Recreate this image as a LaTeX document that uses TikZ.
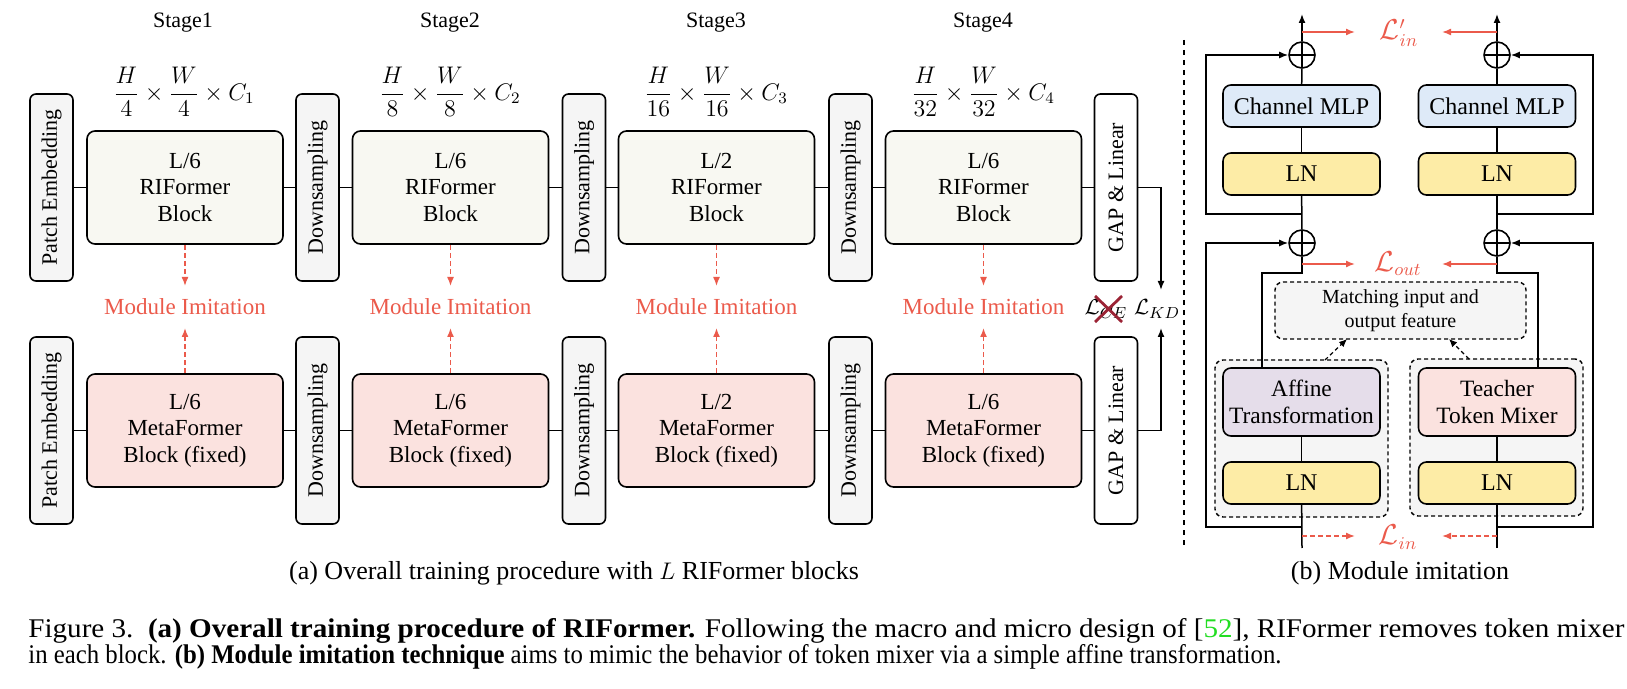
\documentclass[tikz,border=0pt]{standalone}
\usepackage{fontspec}
\setmainfont{Liberation Serif}
\usepackage{amsmath}
\usepackage{graphicx}
\usetikzlibrary{arrows.meta,calc}
\definecolor{rired}{HTML}{EB5A4B}
\definecolor{crossred}{HTML}{9B2335}
\definecolor{grayfill}{HTML}{F5F5F5}
\definecolor{rifill}{HTML}{F8F8F2}
\definecolor{metafill}{HTML}{FBE2DF}
\definecolor{mlpfill}{HTML}{DEEAF8}
\definecolor{lnfill}{HTML}{FDECA6}
\definecolor{afffill}{HTML}{E5DDEA}
\definecolor{citegreen}{HTML}{22DD22}
\begin{document}
\begin{tikzpicture}[x=0.5pt,y=-0.5pt,
  conn/.style={line width=0.75pt},
  arr/.style={line width=0.75pt,-{Latex[length=4.5pt,width=3.5pt]}},
  rarr/.style={line width=0.75pt,draw=rired,-{Latex[length=4.5pt,width=3.5pt]}},
  rdarr/.style={line width=0.75pt,draw=rired,dashed,dash pattern=on 2.5pt off 1.5pt,-{Latex[length=4.5pt,width=3.5pt]}},
  dkarr/.style={line width=0.6pt,dashed,dash pattern=on 2pt off 1.5pt,-{Latex[length=4pt,width=3.5pt]}},
  vbx/.style={draw,rounded corners=3pt,line width=0.8pt,fill=grayfill,rotate=90,minimum width=93.5pt,minimum height=21.5pt,inner sep=0pt,font=\fontsize{11}{13}\selectfont},
  blk/.style={draw,rounded corners=4pt,line width=0.8pt,minimum width=98pt,minimum height=56.5pt,align=center,inner sep=0pt,font=\fontsize{11.5}{13.3}\selectfont},
  rbox/.style={draw,rounded corners=4pt,line width=0.8pt,minimum width=78.5pt,minimum height=21pt,align=center,inner sep=0pt,font=\fontsize{12}{13.5}\selectfont},
  grp/.style={draw,dashed,dash pattern=on 2pt off 1.5pt,rounded corners=4pt,line width=0.7pt,fill=grayfill},
  plusn/.style={circle,draw,line width=0.8pt,minimum size=13pt,inner sep=0pt,
    path picture={\draw[line width=0.8pt] (path picture bounding box.north) -- (path picture bounding box.south) (path picture bounding box.west) -- (path picture bounding box.east);}},
  lbl/.style={font=\fontsize{11}{13}\selectfont,inner sep=0pt},
  rlbl/.style={font=\fontsize{11.5}{13}\selectfont,text=rired,inner sep=0pt},
  loss/.style={font=\fontsize{13.5}{15}\selectfont,text=rired,inner sep=0pt},
  subcap/.style={font=\fontsize{13}{15}\selectfont,inner sep=0pt}
]
\useasboundingbox (0,0) rectangle (1627,689);

% ---------------- (a) ----------------
\node[lbl] (s1) at (183,23) {Stage1};
\node[lbl] (s2) at (450,23) {Stage2};
\node[lbl] (s3) at (716,23) {Stage3};
\node[lbl] (s4) at (983,23) {Stage4};
\node[lbl,font=\fontsize{11.5}{13}\selectfont] (f1) at (184,92) {$\dfrac{H}{4}\times\dfrac{W}{4}\times C_1$};
\node[lbl,font=\fontsize{11.5}{13}\selectfont] (f2) at (450,92) {$\dfrac{H}{8}\times\dfrac{W}{8}\times C_2$};
\node[lbl,font=\fontsize{11.5}{13}\selectfont] (f3) at (716,92) {$\dfrac{H}{16}\times\dfrac{W}{16}\times C_3$};
\node[lbl,font=\fontsize{11.5}{13}\selectfont] (f4) at (983,92) {$\dfrac{H}{32}\times\dfrac{W}{32}\times C_4$};

% top row
\node[vbx] (pe1) at (51.5,187.5) {Patch Embedding};
\node[blk,fill=rifill] (b1) at (185,187.5) {L/6\\RIFormer\\Block};
\node[vbx] (d1) at (317.5,187.5) {Downsampling};
\node[blk,fill=rifill] (b2) at (450.5,187.5) {L/6\\RIFormer\\Block};
\node[vbx] (d2) at (584,187.5) {Downsampling};
\node[blk,fill=rifill] (b3) at (716.5,187.5) {L/2\\RIFormer\\Block};
\node[vbx] (d3) at (850.5,187.5) {Downsampling};
\node[blk,fill=rifill] (b4) at (983.5,187.5) {L/6\\RIFormer\\Block};
\node[vbx,fill=white] (g1) at (1116,187.5) {GAP \& Linear};

% bottom row
\node[vbx] (pe2) at (51.5,430.5) {Patch Embedding};
\node[blk,fill=metafill] (m1) at (185,430.5) {L/6\\MetaFormer\\Block (fixed)};
\node[vbx] (e1) at (317.5,430.5) {Downsampling};
\node[blk,fill=metafill] (m2) at (450.5,430.5) {L/6\\MetaFormer\\Block (fixed)};
\node[vbx] (e2) at (584,430.5) {Downsampling};
\node[blk,fill=metafill] (m3) at (716.5,430.5) {L/2\\MetaFormer\\Block (fixed)};
\node[vbx] (e3) at (850.5,430.5) {Downsampling};
\node[blk,fill=metafill] (m4) at (983.5,430.5) {L/6\\MetaFormer\\Block (fixed)};
\node[vbx,fill=white] (g2) at (1116,430.5) {GAP \& Linear};

\foreach \a/\b in {pe1/b1,b1/d1,d1/b2,b2/d2,d2/b3,b3/d3,d3/b4,b4/g1,
                   pe2/m1,m1/e1,e1/m2,m2/e2,e2/m3,m3/e3,e3/m4,m4/g2}
  \draw[conn] (\a) -- (\b);

\foreach \i/\x in {1/185,2/450.5,3/716.5,4/983.5}{
  \node[rlbl] (mi\i) at (\x,307) {Module Imitation};
  \coordinate (mt\i) at (\x,286);
  \coordinate (mb\i) at (\x,328);
  \draw[rdarr] (b\i.south) -- (mt\i);
  \draw[rdarr] (m\i.north) -- (mb\i);
}

\coordinate (kdt) at (1161,290);
\coordinate (kdb) at (1161,328);
\draw[arr] (g1.south) -| (kdt);
\draw[arr] (g2.south) -| (kdb);
\node[lbl] (lce) at (1106,309) {$\mathcal{L}_{CE}$};
\draw[draw=crossred,line width=1.4pt] (1095,296) -- (1122,322) (1122,296) -- (1095,322);
\node[lbl] (lkd) at (1157,309) {$\mathcal{L}_{KD}$};

\draw[line width=0.6pt,dashed,dash pattern=on 2.5pt off 2.5pt] (1184,40) -- (1184,548);

\node[subcap] (capa) at (574,573) {(a) Overall training procedure with $L$ RIFormer blocks};

% ---------------- (b) ----------------
\node[grp,minimum width=86.5pt,minimum height=78.5pt] (grpL) at (1301.5,438.5) {};
\node[grp,minimum width=86.5pt,minimum height=78.5pt] (grpR) at (1496.5,437.5) {};
\node[grp,minimum width=125.5pt,minimum height=28.5pt,align=center,inner sep=0pt,font=\fontsize{10}{12}\selectfont] (match) at (1400.5,310.5) {Matching input and\\output feature};

\node[plusn] (p1L) at (1302,55) {};
\node[rbox,fill=mlpfill] (mlpL) at (1301.5,106) {Channel MLP};
\node[rbox,fill=lnfill] (ln1L) at (1301.5,174) {LN};
\node[plusn] (p2L) at (1302,243) {};
\node[rbox,fill=afffill,minimum height=34pt,font=\fontsize{11.7}{13.5}\selectfont] (affL) at (1301.5,402) {Affine\\Transformation};
\node[rbox,fill=lnfill] (ln2L) at (1301.5,483) {LN};
\node[plusn] (p1R) at (1497,55) {};
\node[rbox,fill=mlpfill] (mlpR) at (1497,106) {Channel MLP};
\node[rbox,fill=lnfill] (ln1R) at (1497,174) {LN};
\node[plusn] (p2R) at (1497,243) {};
\node[rbox,fill=metafill,minimum height=34pt,font=\fontsize{11.7}{13.5}\selectfont] (tokR) at (1497,402) {Teacher\\Token Mixer};
\node[rbox,fill=lnfill] (ln2R) at (1497,483) {LN};

\coordinate (topL) at (1302,14);
\coordinate (topR) at (1497,14);
\coordinate (inL) at (1302,548);
\coordinate (inR) at (1497,548);
\coordinate (brL1) at (1302,214);
\coordinate (brR1) at (1497,214);
\coordinate (brL2) at (1302,527);
\coordinate (brR2) at (1497,527);

\foreach \s in {L,R}{
  \draw[arr] (p1\s) -- (top\s);
  \draw[conn] (mlp\s) -- (p1\s);
  \draw[conn] (ln1\s) -- (mlp\s);
  \draw[conn] (p2\s) -- (ln1\s);
  \draw[conn] (in\s) -- (ln2\s);
}
\draw[conn] (ln2L) -- (affL);
\draw[conn] (ln2R) -- (tokR);
\draw[conn] ([xshift=-19.75pt]affL.north) |- (1302,273) -- (p2L.south);
\draw[conn] ([xshift=20.5pt]tokR.north) |- (1497,273) -- (p2R.south);

\draw[arr] (brL1) -- (1206,214) |- (p1L.west);
\draw[arr] (brR1) -- (1593,214) |- (p1R.east);
\draw[arr] (brL2) -- (1206,527) |- (p2L.west);
\draw[arr] (brR2) -- (1593,527) |- (p2R.east);

\draw[dkarr] (1325,360) -- (1347,339);
\draw[dkarr] (1469,359) -- (1449,339);

\draw[rarr] (1302,32) -- (1355,32);
\draw[rarr] (1497,32) -- (1442,32);
\node[loss] (lip) at (1399,33) {$\mathcal{L}'_{in}$};
\draw[rarr] (1302,264) -- (1355,264);
\draw[rarr] (1497,264) -- (1442,264);
\node[loss] (lout) at (1398,264) {$\mathcal{L}_{out}$};
\draw[rdarr] (1302,536) -- (1355,536);
\draw[rdarr] (1497,536) -- (1442,536);
\node[loss] (lin) at (1398,537) {$\mathcal{L}_{in}$};

\node[subcap] (capb) at (1400,573) {(b) Module imitation};

% ---------------- caption ----------------
\node[anchor=base west,inner sep=0pt,font=\fontsize{13.5}{13.3}\selectfont] (cap1) at (28,637)
{\resizebox{798pt}{\height}{Figure 3.\ \ \textbf{(a) Overall training procedure of RIFormer.} Following the macro and micro design of [\textcolor{citegreen}{52}], RIFormer removes token mixer}};
\node[anchor=base west,inner sep=0pt,font=\fontsize{13.5}{13.3}\selectfont] (cap2) at (28,663)
{\resizebox{626.5pt}{\height}{in each block. \textbf{(b) Module imitation technique} aims to mimic the behavior of token mixer via a simple affine transformation.}};
\end{tikzpicture}
\end{document}
